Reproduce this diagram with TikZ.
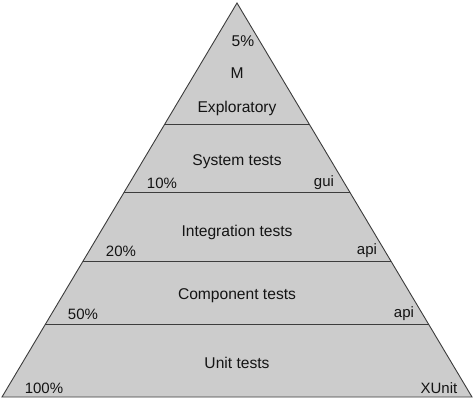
\documentclass[tikz,border=0pt]{standalone}
\usepackage{fontspec}
\setsansfont{Liberation Sans}
\usetikzlibrary{calc}
\definecolor{Band}{HTML}{CCCCCC}
\definecolor{Edge}{HTML}{3C3C3C}
\definecolor{Ink}{HTML}{141414}
\begin{document}
\begin{tikzpicture}[x=1pt,y=-1pt,font=\sffamily\fontsize{15.6}{17}\selectfont,every node/.style={text=Ink,inner sep=0pt},
  side/.style={font=\sffamily\fontsize{15}{17}\selectfont}]
\useasboundingbox[fill=white] (0,0) rectangle (474,402);
\coordinate (top) at (237,3);\coordinate (bl) at (2,397);\coordinate (br) at (472,397);
\filldraw[fill=Band,draw=Edge,line width=0.9pt,line join=miter] (top)--(bl)--(br)--cycle;
\foreach \f in {0.307,0.482,0.655,0.817}{\draw[Edge,line width=0.9pt] ($(top)!\f!(bl)$)--($(top)!\f!(br)$);}
\node (m5) at (243,41){5\%};\node (mM) at (237,73){M};\node (expl) at (237,108){Exploratory};
\node (sys) at (237,162){System tests};\node[side] (s10) at (162,183){10\%};\node[side] (sgui) at (324,183){gui};
\node (integ) at (237,232){Integration tests};\node[side] (i20) at (121,251){20\%};\node[side] (iapi) at (367,251){api};
\node (comp) at (237,296){Component tests};\node[side] (c50) at (83,314){50\%};\node[side] (capi) at (404,314){api};
\node (unit) at (237,363){Unit tests};\node[side] (u100) at (44,388){100\%};\node[side] (uxu) at (439,388){XUnit};
\end{tikzpicture}
\end{document}
